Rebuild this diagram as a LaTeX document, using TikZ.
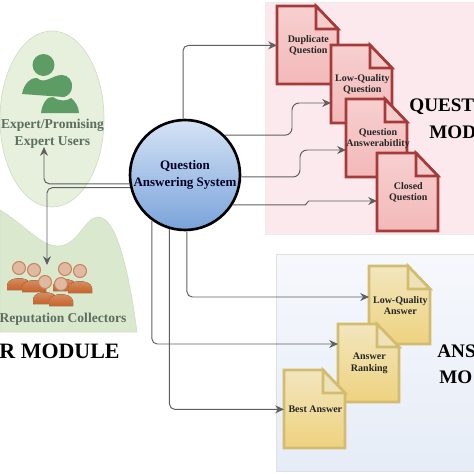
\documentclass[tikz,border=0pt]{standalone}
\usepackage{fontspec}
\setmainfont{Liberation Serif}
\usetikzlibrary{arrows.meta, positioning, calc}

\definecolor{qline}{HTML}{A53A38}
\definecolor{aline}{HTML}{D3BC70}
\definecolor{linkgray}{HTML}{5F5F5F}
\definecolor{usertext}{HTML}{5C6E60}
\definecolor{usergreen}{HTML}{5E9C66}
\definecolor{blobline}{HTML}{D0E0C4}
\definecolor{blobfill}{HTML}{E6F0DC}
\definecolor{blobdark}{HTML}{DAE9CD}
\definecolor{qtop}{HTML}{F7CFCF}
\definecolor{qbot}{HTML}{F3B9B9}
\definecolor{qfoldfill}{HTML}{F4CDCD}
\definecolor{atop}{HTML}{F2E6BE}
\definecolor{abot}{HTML}{EED27F}
\definecolor{afoldfill}{HTML}{EEE2B8}
\definecolor{panelpink}{HTML}{FBE9EE}
\definecolor{paneltop}{HTML}{F6F8FC}
\definecolor{panelbot}{HTML}{E6ECF7}
\definecolor{balltop}{HTML}{D5E3F5}
\definecolor{ballbot}{HTML}{7AA3DA}
\definecolor{mantop}{HTML}{DB9468}
\definecolor{manbot}{HTML}{C4622C}
\definecolor{manhead}{HTML}{DFB9A2}
\definecolor{manline}{HTML}{C8835C}

\tikzset{
    link/.style={linkgray, line width=0.55pt, rounded corners=3pt},
    tolink/.style={link, -{Stealth[length=5pt,width=4.5pt]}},
    qdoc/.style={draw=qline, line width=1.5pt, line join=miter, top color=qtop, bottom color=qbot},
    qfold/.style={draw=qline, line width=1.5pt, line join=miter, fill=qfoldfill},
    adoc/.style={draw=aline, line width=1.5pt, line join=miter, top color=atop, bottom color=abot},
    afold/.style={draw=aline, line width=1.5pt, line join=miter, fill=afoldfill},
    doclabel/.style={font=\bfseries\fontsize{5.7}{6.5}\selectfont, align=center, text=black!85,
        minimum width=1.24cm, minimum height=1.56cm, inner sep=0pt},
    userlabel/.style={font=\bfseries\fontsize{7.7}{9.6}\selectfont, align=center, text=usertext},
    modtitle/.style={font=\bfseries\fontsize{12.5}{14.5}\selectfont, align=center, inner sep=0pt},
    sidetitle/.style={font=\bfseries\fontsize{10.9}{13}\selectfont, inner sep=0pt, anchor=west},
}

% one page with a folded corner, top left at #2,#3
\newcommand{\docpage}[4]{
    \draw[#1] (#2,#3) -- ++(39,0) -- ++(22,23) -- ++(0,55) -- ++(-61,0) -- cycle;
    \draw[#4] (#2+39,#3) -- ++(22,23) -- ++(-22,0) -- cycle;
}

% one small person of the crowd, head at #1,#2
\newcommand{\crowdman}[2]{
    \fill[top color=mantop, bottom color=manbot] (#1-12,#2+22) -- (#1-12,#2+17) .. controls (#1-11,#2+8) and (#1+11,#2+8) .. (#1+12,#2+17) -- (#1+12,#2+22) -- cycle;
    \draw[manline, fill=manhead, line width=0.6pt] (#1,#2) circle (6.5);
}

\begin{document}
\begin{tikzpicture}[x=0.02cm, y=-0.02cm]
    \useasboundingbox (0,0) rectangle (474,474);

    % Panels
    \fill[panelpink, draw=black!8] (265,2) rectangle (474,234);
    \draw[black!12, top color=paneltop, bottom color=panelbot] (276,254) rectangle (474,471);

    % User side
    \draw[blobline, fill=blobfill] (52,119) ellipse (52 and 88);
    \draw[blobline, fill=blobdark] (0,210) .. controls (25,225) and (40,246) .. (58,246)
        .. controls (78,246) and (85,217) .. (98,217) .. controls (118,217) and (130,280) .. (137,332) -- (0,332) -- cycle;

    % Green users
    \fill[usergreen] (43.5,65) circle (11);
    \fill[usergreen] (22,94) .. controls (24,82) and (33,77) .. (37,78) .. controls (45,85) and (52,75) .. (62,75)
        .. controls (68,75) and (73,81) .. (72,87) .. controls (72,92) and (68,96) .. (64,97) -- (22,94) -- cycle;
    \fill[usergreen] (41,113) .. controls (42,104) and (47,96) .. (53,97) .. controls (60,102) and (67,101) .. (71,98)
        .. controls (75,101) and (79,107) .. (79,113) -- cycle;

    % Orange crowd
    \crowdman{19}{268}
    \crowdman{65}{269}
    \crowdman{34}{270}
    \crowdman{80}{271}
    \crowdman{45}{282}
    \crowdman{61}{284}

    % Texts on the user side
    \node[userlabel] (expertusers) at (52.5,134) {Expert/Promising\\Expert Users};
    \node[userlabel] (collectors) at (63,319) {Reputation Collectors};
    \node[modtitle, anchor=east] (usermodule) at (120,351) {R MODULE};

    % Centre
    \node[circle, draw=black, line width=1.5pt, minimum size=2.2cm, inner sep=0pt, top color=balltop, bottom color=ballbot,
        font=\bfseries\fontsize{7.4}{9.2}\selectfont, align=center, text=blue!15!black] (qas) at (185,175) {Question\\Answering System};

    % Question pages
    \foreach \nm/\px/\py/\txt in {dupq/277/6/{Duplicate\\Question}, lowq/331/45/{Low-Quality\\Question}, ansq/346/99/{Question\\Answerabitlity}, closeq/377/153/{Closed\\Question}} {
        \docpage{qdoc}{\px}{\py}{qfold}
        \node[doclabel, anchor=north west] (\nm) at (\px,\py) {\txt};
    }

    % Answer pages
    \foreach \nm/\px/\py/\txt in {lowa/369/266/{Low-Quality\\Answer}, ranka/338/324/{Answer\\Ranking}, besta/284/370/{Best Answer}} {
        \docpage{adoc}{\px}{\py}{afold}
        \node[doclabel, anchor=north west] (\nm) at (\px,\py) {\txt};
    }

    % Module titles
    \node[sidetitle] (qmodone) at (409,107) {QUEST};
    \node[sidetitle] (qmodtwo) at (429,132) {MOD};
    \node[sidetitle] (amodone) at (437,351) {ANS};
    \node[sidetitle] (amodtwo) at (439,377) {MO};

    % Free ends of the links
    \coordinate (lowqin) at (331,103);
    \coordinate (lowqbend) at (292,103);
    \coordinate (ansqin) at (346,150);
    \coordinate (ansqbend) at (300,150);
    \coordinate (closeqin) at (377,201);
    \coordinate (closeqbend) at (307,201);
    \coordinate (lowain) at (369,297);
    \coordinate (rankain) at (338,344);
    \coordinate (usertip) at (44,147);
    \coordinate (crowdtip) at (47,265);

    % Links to the question pages
    \draw[tolink] (qas.92) |- (dupq.west);
    \draw[tolink, rounded corners=4pt] (qas.45) -| (lowqbend) -- (lowqin);
    \draw[tolink, rounded corners=4pt] (qas.358) -| (ansqbend) -- (ansqin);
    \draw[tolink, rounded corners=1pt] (qas.328) -| (closeqbend) -- (closeqin);

    % Links to the answer pages
    \draw[tolink] (qas.272) |- (lowain);
    \draw[tolink] (qas.234) |- (rankain);
    \draw[tolink] (qas.254) |- (besta.west);

    % Links to the user side
    \draw[tolink] (qas.189) -| (usertip);
    \draw[tolink] (qas.193) -| (crowdtip);
\end{tikzpicture}
\end{document}
